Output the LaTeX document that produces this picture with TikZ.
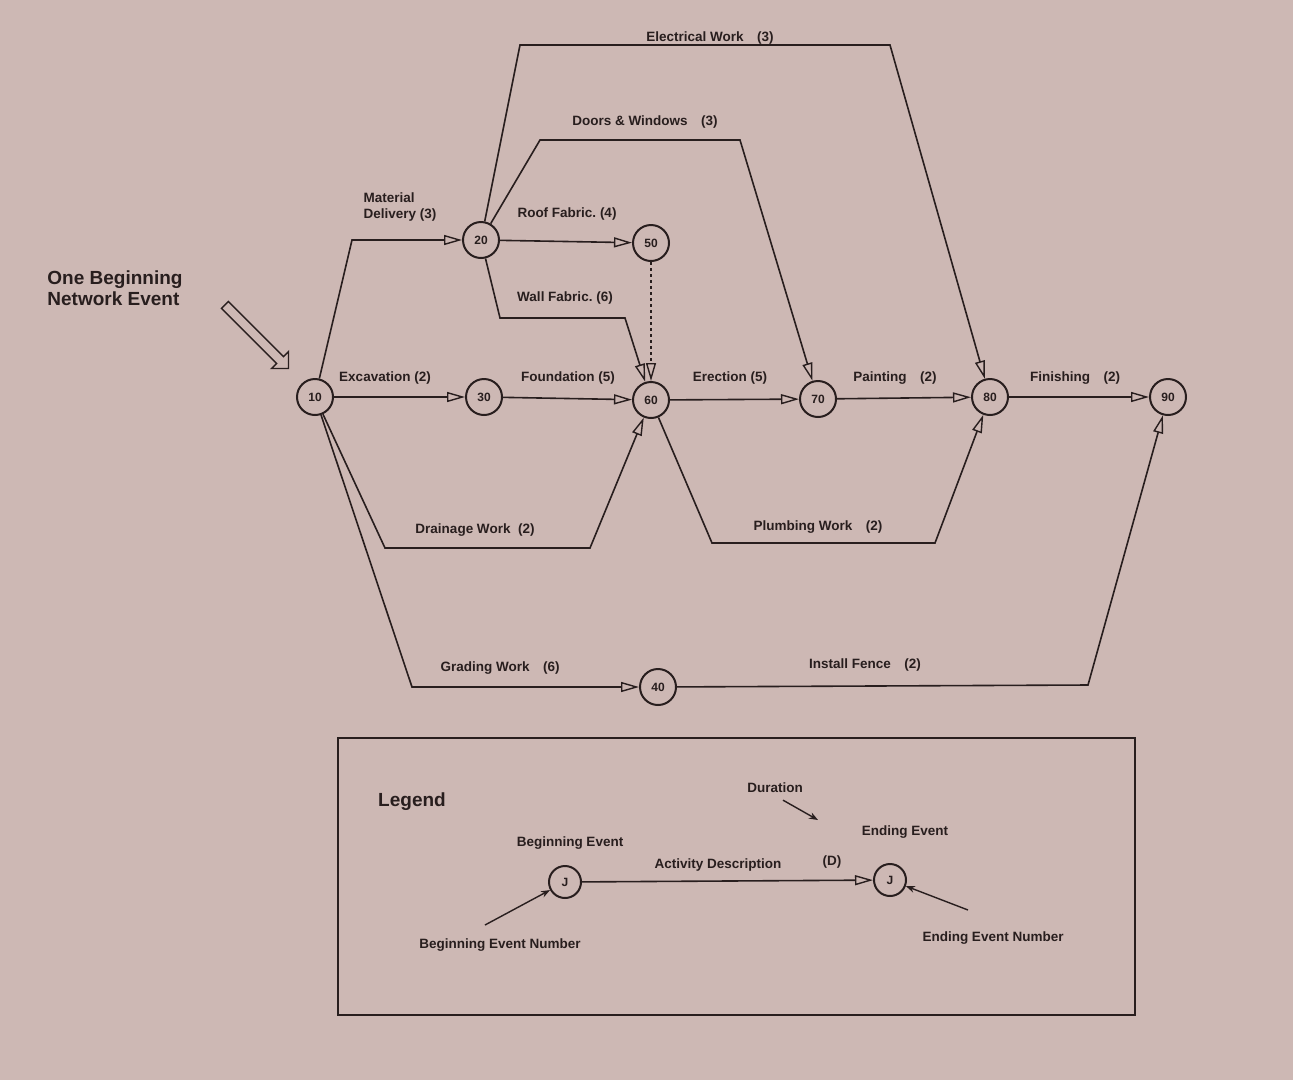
\documentclass[tikz,border=0pt]{standalone}
\usepackage{fontspec}
\setmainfont{Liberation Sans}
\usetikzlibrary{arrows.meta,shapes.arrows}
\definecolor{bg}{RGB}{205,184,180}
\definecolor{ink}{RGB}{40,30,30}
\begin{document}
\begin{tikzpicture}[x=1pt,y=-1pt,
 ev/.style={circle,draw=ink,line width=2pt,minimum size=36pt,inner sep=0pt,font=\bfseries\fontsize{12}{14}\selectfont,text=ink},
 act/.style={draw=ink,line width=1.6pt,-{Triangle[open,length=18pt,width=10pt,line width=1.4pt]}},
 lbl/.style={font=\bfseries\fontsize{13.5}{16}\selectfont,text=ink,inner sep=1pt},
 ann/.style={draw=ink,line width=1.4pt,-{Stealth[length=9pt]}}]
\fill[bg] (0,0) rectangle (1293,1080);
\useasboundingbox (0,0) rectangle (1293,1080);
\node[ev] (n10) at (315,397) {10};
\node[ev] (n20) at (481,240) {20};
\node[ev] (n30) at (484,397) {30};
\node[ev] (n50) at (651,243) {50};
\node[ev] (n60) at (651,400) {60};
\node[ev] (n70) at (818,399) {70};
\node[ev] (n80) at (990,397) {80};
\node[ev] (n90) at (1168,397) {90};
\node[ev] (n40) at (658,687) {40};
\coordinate (a1) at (352,240); \coordinate (b1) at (520,45); \coordinate (b2) at (890,45);
\coordinate (c1) at (540,140); \coordinate (c2) at (740,140);
\coordinate (d1) at (500,318); \coordinate (d2) at (625,318);
\coordinate (e1) at (385,548); \coordinate (e2) at (590,548);
\coordinate (f1) at (712,543); \coordinate (f2) at (935,543);
\coordinate (g1) at (412,687); \coordinate (h1) at (1088,685);
\draw[act] (n10) -- (a1) -- (n20);
\draw[act] (n20) -- (n50);
\draw[act] (n20) -- (d1) -- (d2) -- (n60);
\draw[act,dashed] (n50) -- (n60);
\draw[act] (n20) -- (b1) -- (b2) -- (n80);
\draw[act] (n20) -- (c1) -- (c2) -- (n70);
\draw[act] (n10) -- (n30);
\draw[act] (n30) -- (n60);
\draw[act] (n60) -- (n70);
\draw[act] (n70) -- (n80);
\draw[act] (n80) -- (n90);
\draw[act] (n10) -- (e1) -- (e2) -- (n60);
\draw[act] (n60) -- (f1) -- (f2) -- (n80);
\draw[act] (n10) -- (g1) -- (n40);
\draw[act] (n40) -- (h1) -- (n90);
\node[lbl] (l1) at (710,38) {Electrical Work\quad(3)};
\node[lbl] (l2) at (645,122) {Doors \& Windows\quad(3)};
\node[lbl,align=left] (l3) at (400,207) {Material\\Delivery\ (3)};
\node[lbl] (l4) at (567,214) {Roof Fabric.\ (4)};
\node[lbl] (l5) at (565,298) {Wall Fabric.\ (6)};
\node[lbl] (l6) at (385,378) {Excavation\ (2)};
\node[lbl] (l7) at (568,378) {Foundation (5)};
\node[lbl] (l8) at (730,378) {Erection\ (5)};
\node[lbl] (l9) at (895,378) {Painting\quad(2)};
\node[lbl] (l10) at (1075,378) {Finishing\quad(2)};
\node[lbl] (l11) at (475,530) {Drainage Work\ \ (2)};
\node[lbl] (l12) at (818,527) {Plumbing Work\quad(2)};
\node[lbl] (l13) at (500,668) {Grading Work\quad(6)};
\node[lbl] (l14) at (865,665) {Install Fence\quad(2)};
\node[font=\bfseries\fontsize{19}{21}\selectfont,text=ink,align=left] (beg) at (115,288) {One Beginning\\Network Event};
\node[single arrow,draw=ink,line width=1.4pt,fill=bg,minimum height=90pt,minimum width=24pt,single arrow head extend=6pt,rotate=-45] (bar) at (255,335) {};
% legend
\draw[ink,line width=2pt] (338,738) rectangle (1135,1015);
\node[font=\bfseries\fontsize{19}{21}\selectfont,text=ink] (lg) at (412,802) {Legend};
\node[ev,minimum size=32pt] (j1) at (565,882) {J};
\node[ev,minimum size=32pt] (j2) at (890,880) {J};
\draw[act] (j1) -- (j2);
\node[lbl] (ad) at (718,865) {Activity Description};
\node[lbl] (dd) at (832,862) {(D)};
\node[lbl] (du) at (775,788) {Duration};
\coordinate (du2) at (818,820);
\draw[ann] (du.south) ++(8,6) -- (du2);
\node[lbl] (ee) at (905,832) {Ending Event};
\node[lbl] (be) at (570,843) {Beginning Event};
\node[lbl] (ben) at (500,945) {Beginning Event Number};
\coordinate (bs) at (485,925);
\draw[ann] (bs) -- (j1);
\node[lbl] (een) at (993,938) {Ending Event Number};
\coordinate (es) at (968,910);
\draw[ann] (es) -- (j2);
\end{tikzpicture}
\end{document}
